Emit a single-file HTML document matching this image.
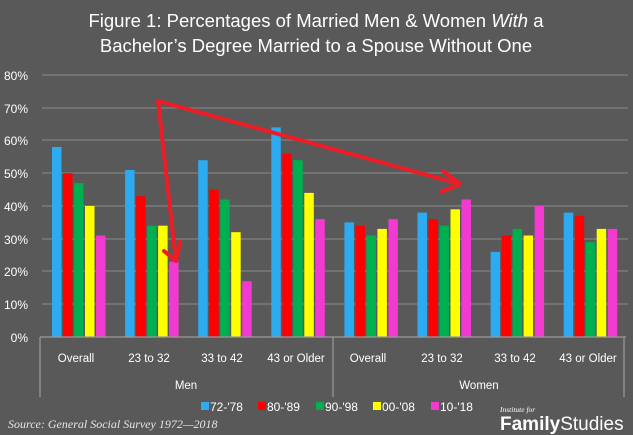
<!DOCTYPE html>
<html><head><style>
body{margin:0;background:#595959;}
svg{display:block;font-family:"Liberation Sans",sans-serif;}
</style></head><body>
<svg width="633" height="435" xmlns="http://www.w3.org/2000/svg">
<rect width="633" height="435" fill="#595959"/>
<text x="316" y="27" fill="#fff" font-size="18.5" text-anchor="middle">Figure 1: Percentages of Married Men &amp; Women <tspan font-style="italic">With</tspan> a</text>
<text x="316" y="52" fill="#fff" font-size="18.5" text-anchor="middle">Bachelor’s Degree Married to a Spouse Without One</text>
<g stroke="#7a7a7a" stroke-width="1.5">
<line x1="42" x2="628" y1="75" y2="75"/><line x1="42" x2="628" y1="108" y2="108"/>
<line x1="42" x2="628" y1="140" y2="140"/><line x1="42" x2="628" y1="173" y2="173"/>
<line x1="42" x2="628" y1="206" y2="206"/><line x1="42" x2="628" y1="239" y2="239"/>
<line x1="42" x2="628" y1="271" y2="271"/><line x1="42" x2="628" y1="304" y2="304"/>
</g>
<g fill="#fff" font-size="12" text-anchor="end">
<text x="28" y="80">80%</text><text x="28" y="113">70%</text><text x="28" y="145">60%</text>
<text x="28" y="178">50%</text><text x="28" y="211">40%</text><text x="28" y="244">30%</text>
<text x="28" y="276">20%</text><text x="28" y="309">10%</text><text x="28" y="342">0%</text>
</g>
<g>
<!-- Men Overall -->
<rect x="52" y="147" width="9.5" height="190" fill="#2eaaf0"/>
<rect x="63" y="173.3" width="9.5" height="163.7" fill="#ff0000"/>
<rect x="74" y="183.1" width="9.5" height="153.9" fill="#00b050"/>
<rect x="85" y="206" width="9.5" height="131" fill="#ffff00"/>
<rect x="96" y="235.5" width="9.5" height="101.5" fill="#f23ad0"/>
<!-- Men 23-32 -->
<rect x="125.1" y="170" width="9.5" height="167" fill="#2eaaf0"/>
<rect x="136.1" y="196.2" width="9.5" height="140.8" fill="#ff0000"/>
<rect x="147.1" y="225.7" width="9.5" height="111.3" fill="#00b050"/>
<rect x="158.1" y="225.7" width="9.5" height="111.3" fill="#ffff00"/>
<rect x="169.1" y="261.7" width="9.5" height="75.3" fill="#f23ad0"/>
<!-- Men 33-42 -->
<rect x="198.2" y="160.2" width="9.5" height="176.8" fill="#2eaaf0"/>
<rect x="209.2" y="189.6" width="9.5" height="147.4" fill="#ff0000"/>
<rect x="220.2" y="199.5" width="9.5" height="137.5" fill="#00b050"/>
<rect x="231.2" y="232.2" width="9.5" height="104.8" fill="#ffff00"/>
<rect x="242.2" y="281.3" width="9.5" height="55.7" fill="#f23ad0"/>
<!-- Men 43+ -->
<rect x="271.3" y="127.4" width="9.5" height="209.6" fill="#2eaaf0"/>
<rect x="282.3" y="153.6" width="9.5" height="183.4" fill="#ff0000"/>
<rect x="293.3" y="160.2" width="9.5" height="176.8" fill="#00b050"/>
<rect x="304.3" y="192.9" width="9.5" height="144.1" fill="#ffff00"/>
<rect x="315.3" y="219.1" width="9.5" height="117.9" fill="#f23ad0"/>
<!-- Women Overall -->
<rect x="344.4" y="222.4" width="9.5" height="114.6" fill="#2eaaf0"/>
<rect x="355.4" y="225.7" width="9.5" height="111.3" fill="#ff0000"/>
<rect x="366.4" y="235.5" width="9.5" height="101.5" fill="#00b050"/>
<rect x="377.4" y="228.9" width="9.5" height="108.1" fill="#ffff00"/>
<rect x="388.4" y="219.1" width="9.5" height="117.9" fill="#f23ad0"/>
<!-- Women 23-32 -->
<rect x="417.5" y="212.6" width="9.5" height="124.4" fill="#2eaaf0"/>
<rect x="428.5" y="219.1" width="9.5" height="117.9" fill="#ff0000"/>
<rect x="439.5" y="225.7" width="9.5" height="111.3" fill="#00b050"/>
<rect x="450.5" y="209.3" width="9.5" height="127.7" fill="#ffff00"/>
<rect x="461.5" y="199.5" width="9.5" height="137.5" fill="#f23ad0"/>
<!-- Women 33-42 -->
<rect x="490.6" y="251.9" width="9.5" height="85.1" fill="#2eaaf0"/>
<rect x="501.6" y="235.5" width="9.5" height="101.5" fill="#ff0000"/>
<rect x="512.6" y="228.9" width="9.5" height="108.1" fill="#00b050"/>
<rect x="523.6" y="235.5" width="9.5" height="101.5" fill="#ffff00"/>
<rect x="534.6" y="206" width="9.5" height="131" fill="#f23ad0"/>
<!-- Women 43+ -->
<rect x="563.7" y="212.6" width="9.5" height="124.4" fill="#2eaaf0"/>
<rect x="574.7" y="215.8" width="9.5" height="121.2" fill="#ff0000"/>
<rect x="585.7" y="242" width="9.5" height="95" fill="#00b050"/>
<rect x="596.7" y="228.9" width="9.5" height="108.1" fill="#ffff00"/>
<rect x="607.7" y="228.9" width="9.5" height="108.1" fill="#f23ad0"/>
</g>
<g stroke="#9a9a9a" stroke-width="1.2">
<line x1="40" x2="626" y1="337" y2="337"/>
<line x1="40" x2="40" y1="337" y2="397"/>
<line x1="333" x2="333" y1="337" y2="397"/>
<line x1="624" x2="624" y1="337" y2="397"/>
</g>
<g fill="#fff" font-size="11.5" text-anchor="middle">
<text x="76" y="362">Overall</text><text x="149" y="362">23 to 32</text><text x="222" y="362">33 to 42</text><text x="296" y="362">43 or Older</text>
<text x="368" y="362">Overall</text><text x="442" y="362">23 to 32</text><text x="515" y="362">33 to 42</text><text x="588" y="362">43 or Older</text>
<text x="186" y="389">Men</text><text x="479" y="389">Women</text>
</g>
<g font-size="12" fill="#fff">
<rect x="201" y="402" width="8" height="8" fill="#2eaaf0"/><text x="210" y="411">72-'78</text>
<rect x="258" y="402" width="8" height="8" fill="#ff0000"/><text x="267" y="411">80-'89</text>
<rect x="316" y="402" width="8" height="8" fill="#00b050"/><text x="325" y="411">90-'98</text>
<rect x="373" y="402" width="8" height="8" fill="#ffff00"/><text x="382" y="411">00-'08</text>
<rect x="431" y="402" width="8" height="8" fill="#f23ad0"/><text x="440" y="411">10-'18</text>
</g>
<text x="8" y="428" fill="#e6e6e6" font-size="12" font-style="italic" font-family="Liberation Serif,serif">Source: General Social Survey 1972—2018</text>
<text x="500" y="412" fill="#fff" font-size="7.5" font-style="italic" font-family="Liberation Serif,serif">Institute for</text>
<text x="500" y="430" fill="#fff" font-size="19"><tspan font-weight="bold">Family</tspan>Studies</text>
<g stroke="#ee1c25" stroke-width="4" fill="none" stroke-linecap="round" stroke-linejoin="round">
<polyline points="176,261 158,101 460,184"/>
<polyline points="164,251 176,261 180,242"/>
<polyline points="443,171 460,184 441,192"/>
</g>
</svg>
</body></html>
